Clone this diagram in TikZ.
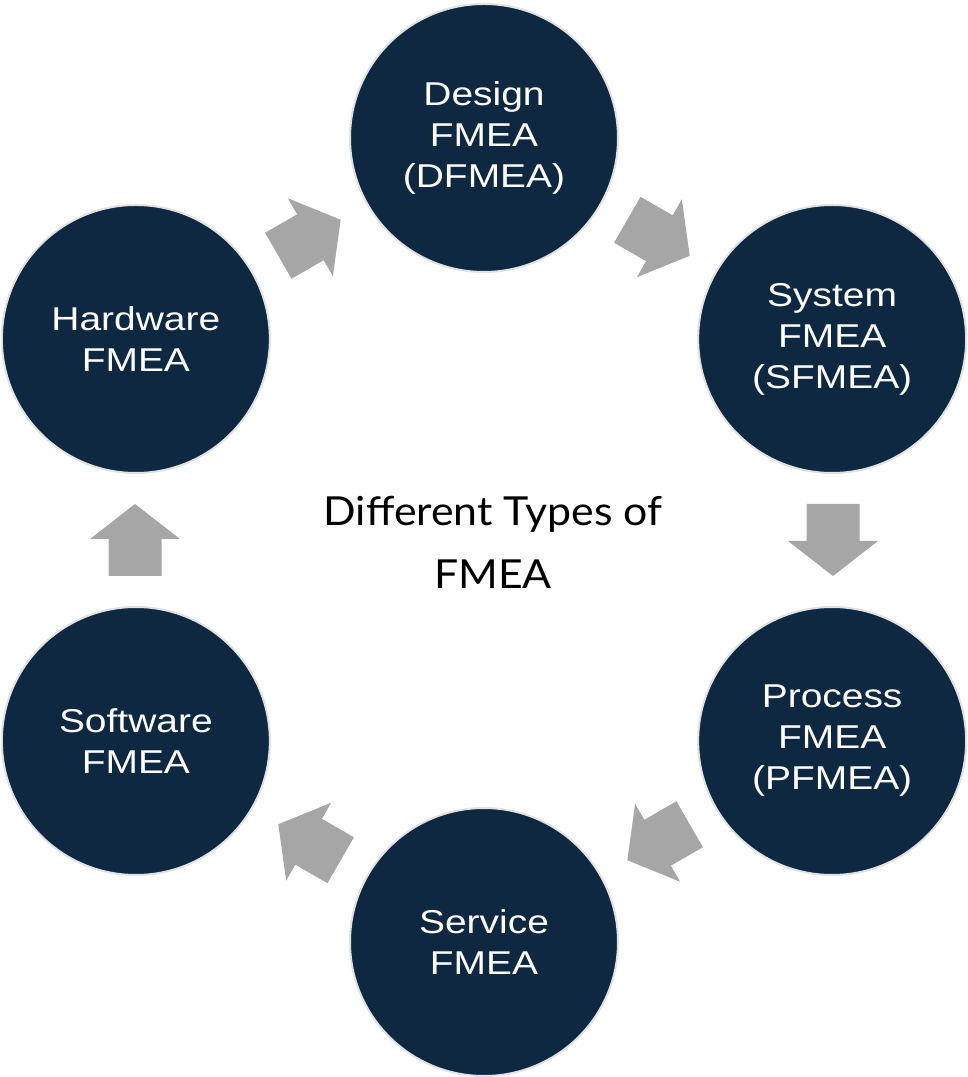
\documentclass[tikz,border=0pt]{standalone}
\usepackage{fontspec}
\setmainfont{Liberation Sans}
\newfontfamily\circfont[FakeStretch=1.18]{Liberation Sans}
\newfontfamily\centerfont[FakeStretch=1.07]{Lato}
\usetikzlibrary{calc}
\definecolor{navy}{HTML}{0E2841}
\definecolor{arrowgray}{HTML}{A6A6A6}
\definecolor{ringgray}{HTML}{E2E2E2}
\begin{document}
\begin{tikzpicture}[x=1pt,y=1pt,
  stage/.style={circle, fill=navy, draw=ringgray, line width=2pt,
    minimum size=268pt, inner sep=0pt, text=white, align=center,
    font=\circfont\fontsize{33}{41}\selectfont},
  title/.style={align=center, text=black, font=\centerfont\fontsize{40}{63}\selectfont},
  blockarrow/.pic={\fill[arrowgray] (-36,-26.5) -- (1,-26.5) -- (1,-45) -- (36,0)
    -- (1,45) -- (1,26.5) -- (-36,26.5) -- cycle;}]
\useasboundingbox (0,0) rectangle (968,1077);
\coordinate (c) at (484,537);
\node[stage] (design)   at ($(c)+(90:402)$)  {Design\\FMEA\\(DFMEA)};
\node[stage] (system)   at ($(c)+(30:402)$)  {System\\FMEA\\(SFMEA)};
\node[stage] (process)  at ($(c)+(-30:402)$) {Process\\FMEA\\(PFMEA)};
\node[stage] (service)  at ($(c)+(-90:402)$) {Service\\FMEA};
\node[stage] (software) at ($(c)+(210:402)$) {Software\\FMEA};
\node[stage] (hardware) at ($(c)+(150:402)$) {Hardware\\FMEA};
\pic[rotate=-30]  at ($(c)+(60:349)$)  {blockarrow};
\pic[rotate=-90]  at ($(c)+(0:349)$)   {blockarrow};
\pic[rotate=-150] at ($(c)+(-60:349)$) {blockarrow};
\pic[rotate=150]  at ($(c)+(-120:349)$) {blockarrow};
\pic[rotate=90]   at ($(c)+(180:349)$) {blockarrow};
\pic[rotate=30]   at ($(c)+(120:349)$) {blockarrow};
\node[title] (titletext) at (493,535) {Different Types of\\FMEA};
\end{tikzpicture}
\end{document}
